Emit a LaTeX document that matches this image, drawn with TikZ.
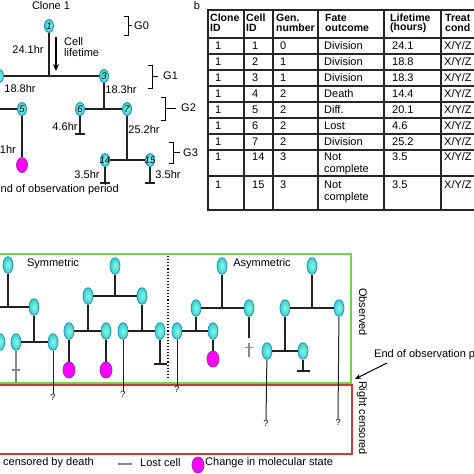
\documentclass[tikz,border=0pt]{standalone}
\usepackage{fontspec}
\setmainfont{Liberation Sans}
\usetikzlibrary{shapes.geometric,arrows.meta}

\definecolor{cellin}{HTML}{92F3E7}
\definecolor{cellout}{HTML}{30D4C8}
\definecolor{cellrim}{HTML}{2A8DC9}
\definecolor{molfill}{HTML}{FF00FF}
\definecolor{molrim}{HTML}{9A2BC4}
\definecolor{obsgreen}{HTML}{72D24C}
\definecolor{censred}{HTML}{C93A3A}
\definecolor{treeline}{HTML}{222222}
\definecolor{deadgray}{HTML}{8A8A8A}

\tikzset{
  cellnode/.style={ellipse, draw=cellrim, line width=0.8pt, inner color=cellin, outer color=cellout,
    minimum width=9pt, minimum height=13pt, inner sep=0pt, font=\itshape\fontsize{9.5}{9.5}\selectfont},
  bigcell/.style={cellnode, minimum width=10pt, minimum height=16.5pt},
  mol/.style={ellipse, draw=molrim, line width=0.8pt, fill=molfill, minimum width=11pt, minimum height=15pt, inner sep=0pt},
  bigmol/.style={mol, minimum width=12pt, minimum height=16pt},
  branch/.style={draw=treeline, line width=1.3pt},
  tailline/.style={draw=treeline, line width=1pt},
  deadline/.style={draw=deadgray, line width=1.1pt},
  qmark/.style={inner sep=0pt, font=\fontsize{9}{9}\selectfont},
  txt/.style={inner sep=0pt, font=\fontsize{11}{13}\selectfont},
  hdr/.style={inner sep=0pt, anchor=west, font=\bfseries\fontsize{10.5}{10.5}\selectfont},
  tbl/.style={draw=black!85, line width=1.4pt, line cap=rect},
  gbrack/.style={draw=black, line width=1pt},
  obsline/.style={draw=obsgreen, line width=1.5pt},
  censline/.style={draw=censred, line width=1.2pt},
}

\begin{document}
\begin{tikzpicture}[x=1pt,y=-1pt]
        \useasboundingbox (0,0) rectangle (474,474);

        % === CLONE TREE ===
        \node[txt] (clonelbl) at (51,6) {Clone 1};
        \node[cellnode] (cl1) at (49,26) {\makebox[0pt]{1}};
        \node[cellnode] (cl2) at (-1,76) {};
        \node[cellnode] (cl3) at (104,76) {\makebox[0pt]{3}};
        \node[cellnode] (cl4) at (-24,109) {};
        \node[cellnode] (cl5) at (22,109) {\makebox[0pt]{5}};
        \node[cellnode] (cl6) at (80,109) {\makebox[0pt]{6}};
        \node[cellnode] (cl7) at (127,109) {\makebox[0pt]{7}};
        \node[cellnode] (cl14) at (105,160) {\makebox[0pt]{14}};
        \node[cellnode] (cl15) at (150,160) {\makebox[0pt]{15}};
        \node[mol] (mol5) at (22,165) {};

        \draw[branch] (cl1) -- (cl1 |- cl3);
        \draw[branch] (cl2) -- (cl3);
        \draw[branch] (cl2) -- (cl2 |- cl5);
        \draw[branch] (cl4) -- (cl5);
        \draw[branch] (cl3) -- (cl3 |- cl6);
        \draw[branch] (cl6) -- (cl7);
        \draw[branch] (cl7) -- (cl7 |- cl14);
        \draw[branch] (cl14) -- (cl15);
        \draw[branch] (cl5) -- (mol5);

        % lost cells
        \coordinate (lost6) at (80,134);
        \coordinate (lost14) at (105,183);
        \coordinate (lost15) at (150,183);
        \foreach \c/\e in {cl6/lost6, cl14/lost14, cl15/lost15} {
            \draw[branch] (\c) -- (\e);
            \draw[branch] ([xshift=-5pt]\e) -- ([xshift=5pt]\e);
        }

        % lifetimes
        \node[txt] (t1) at (28,50) {24.1hr};
        \node[txt] (t2) at (20,89) {18.8hr};
        \node[txt] (t3) at (121,90) {18.3hr};
        \node[txt, anchor=east] (t5) at (16,150) {1hr};
        \node[txt] (t6) at (65,127) {4.6hr};
        \node[txt] (t7) at (144,130) {25.2hr};
        \node[txt] (t14) at (87,175) {3.5hr};
        \node[txt] (t15) at (168,175) {3.5hr};
        \node[txt, anchor=west] (endobs) at (0.5,190) {nd of observation period};

        % === CELL LIFETIME ARROW ===
        \coordinate (lifeA) at (56,37);
        \coordinate (lifeB) at (56,71);
        \draw[-{Stealth[length=7pt,width=6pt]}, line width=1.3pt] (lifeA) -- (lifeB);
        \node[txt, anchor=west] (lifelbl1) at (64,42) {Cell};
        \node[txt, anchor=west] (lifelbl2) at (64,53) {lifetime};

        % === GENERATIONS ===
        \draw[gbrack] (124,16) -- (128,16) -- (128,35) -- (124,35);
        \draw[gbrack] (128,25.5) -- (132,25.5);
        \node[txt, anchor=west] (g0) at (134,26) {G0};
        \draw[gbrack] (148,65) -- (152,65) -- (152,88) -- (148,88);
        \draw[gbrack] (152,76.5) -- (158,76.5);
        \node[txt, anchor=west] (g1) at (163,76) {G1};
        \draw[gbrack] (161,97) -- (165,97) -- (165,120) -- (161,120);
        \draw[gbrack] (165,108.5) -- (176,108.5);
        \node[txt, anchor=west] (g2) at (181,108) {G2};
        \draw[gbrack] (169,142) -- (173,142) -- (173,163) -- (169,163);
        \draw[gbrack] (173,152.5) -- (180,152.5);
        \node[txt, anchor=west] (g3) at (183,153) {G3};

        % === TABLE ===
        \node[txt] (blbl) at (197,6) {b};
        \foreach \x in {208,244,273,318,384,441,520}
            \draw[tbl] (\x,10) -- (\x,210);
        \foreach \y in {10,38,54,70,86,102,118,134,150,176,210}
            \draw[tbl] (208,\y) -- (520,\y);

        \node[hdr] (h1a) at (210,17.5) {Clone};
        \node[hdr] (h1b) at (210,28) {ID};
        \node[hdr] (h2a) at (246,17.5) {Cell};
        \node[hdr] (h2b) at (246,28) {ID};
        \node[hdr] (h3a) at (276,17.5) {Gen.};
        \node[hdr] (h3b) at (276,28) {number};
        \node[hdr] (h4a) at (325,17.5) {Fate};
        \node[hdr] (h4b) at (325,28) {outcome};
        \node[hdr] (h5a) at (390,17.5) {Lifetime};
        \node[hdr] (h5b) at (390,28) {(hours)};
        \node[hdr] (h6a) at (445,17.5) {Treat};
        \node[hdr] (h6b) at (445,28) {cond};

        \foreach \yy/\cid/\gen/\fate/\life in {46/1/0/Division/24.1, 62/2/1/Division/18.8,
            78/3/1/Division/18.3, 94/4/2/Death/14.4, 110/5/2/Diff./20.1,
            126/6/2/Lost/4.6, 142/7/2/Division/25.2, 157/14/3/Not/3.5, 185/15/3/Not/3.5} {
            \node[txt, anchor=west] (rc\cid) at (215,\yy) {1};
            \node[txt, anchor=west] (ri\cid) at (252,\yy) {\cid};
            \node[txt, anchor=west] (rg\cid) at (280,\yy) {\gen};
            \node[txt, anchor=west] (rf\cid) at (324,\yy) {\fate};
            \node[txt, anchor=west] (rl\cid) at (392,\yy) {\life};
            \node[txt, anchor=west] (rt\cid) at (444,\yy) {X/Y/Z};
        }
        \node[txt, anchor=west] (rf14b) at (324,170) {complete};
        \node[txt, anchor=west] (rf15b) at (324,198) {complete};

        % === OBSERVATION WINDOW ===
        \draw[obsline] (-5,254) -- (351,254) -- (351,383) -- (-5,383);
        \draw[censline] (-5,385) -- (352,385) -- (352,454) -- (-5,454);
        \draw[dotted, line width=1.1pt] (168,256) -- (168,380);
        \node[txt] (symlbl) at (53,264) {Symmetric};
        \node[txt] (asymlbl) at (262,264) {Asymmetric};
        \node[txt, rotate=-90] (obslbl) at (363,312) {Observed};
        \node[txt, rotate=-90] (rclbl) at (362,418) {Right censored};
        \node[txt, anchor=west] (endlbl) at (374,355) {End of observation p};
        \coordinate (arrtail) at (387,363);
        \coordinate (arrhead) at (355,379);
        \draw[-{Stealth[length=6pt,width=5pt]}, line width=1pt] (arrtail) -- (arrhead);

        % === SYMMETRIC TREES ===
        \node[bigcell] (a0) at (8,265) {};
        \node[bigcell] (a1) at (-18,307) {};
        \node[bigcell] (a2) at (34,307) {};
        \node[bigcell] (a4) at (0,342) {};
        \node[bigcell] (a5) at (16,342) {};
        \node[bigcell] (a6) at (53,342) {};
        \draw[branch] (a0) -- (a0 |- a2);
        \draw[branch] (a1) -- (a2);
        \draw[branch] (a2) -- (a2 |- a6);
        \draw[branch] (a5) -- (a6);
        \coordinate (a5end) at (16,383);
        \draw[deadline] (a5) -- (a5end);
        \draw[deadline] (12,370) -- (20,370);
        \node[qmark] (qa6) at (53,397) {?};
        \draw[tailline] (a6) -- (qa6.north);

        \node[bigcell] (b0) at (115,266) {};
        \node[bigcell] (b1) at (88,296) {};
        \node[bigcell] (b2) at (142,296) {};
        \node[bigcell] (b3) at (69,331) {};
        \node[bigcell] (b4) at (106,331) {};
        \node[bigcell] (b5) at (123,331) {};
        \node[bigcell] (b6) at (160,331) {};
        \node[bigmol] (m1) at (69,370) {};
        \node[bigmol] (m2) at (106,370) {};
        \draw[branch] (b0) -- (b0 |- b1);
        \draw[branch] (b1) -- (b2);
        \draw[branch] (b1) -- (b1 |- b3);
        \draw[branch] (b3) -- (b4);
        \draw[branch] (b2) -- (b2 |- b5);
        \draw[branch] (b5) -- (b6);
        \draw[branch] (b3) -- (m1);
        \draw[branch] (b4) -- (m2);
        \node[qmark] (qb5) at (123,394) {?};
        \draw[tailline] (b5) -- (qb5.north);
        \coordinate (lostb6) at (160,364);
        \draw[branch] (b6) -- (lostb6);
        \draw[branch] ([xshift=-6.5pt]lostb6) -- ([xshift=6.5pt]lostb6);

        % === ASYMMETRIC TREES ===
        \node[bigcell] (c0) at (222,266) {};
        \node[bigcell] (c1) at (196,308) {};
        \node[bigcell] (c2) at (249,308) {};
        \node[bigcell] (c3) at (177,331) {};
        \node[bigcell] (c4) at (213,331) {};
        \node[bigmol] (m3) at (213,359) {};
        \draw[branch] (c0) -- (c0 |- c1);
        \draw[branch] (c1) -- (c2);
        \draw[branch] (c1) -- (c1 |- c3);
        \draw[branch] (c3) -- (c4);
        \draw[branch] (c4) -- (m3);
        \node[qmark] (qc3) at (177,389) {?};
        \draw[tailline] (c3) -- (qc3.north);
        \coordinate (deadc2) at (249,338);
        \draw[branch] (c2) -- (deadc2);
        \draw[deadline] (249,343) -- (249,357);
        \draw[deadline] (245,347.5) -- (253,347.5);

        \node[bigcell] (d0) at (312,266) {};
        \node[bigcell] (d1) at (285,308) {};
        \node[bigcell] (d2) at (339,308) {};
        \node[bigcell] (d3) at (267,351) {};
        \node[bigcell] (d4) at (303,351) {};
        \draw[branch] (d0) -- (d0 |- d1);
        \draw[branch] (d1) -- (d2);
        \draw[branch] (d1) -- (d1 |- d3);
        \draw[branch] (d3) -- (d4);
        \node[qmark] (qd3) at (266,423) {?};
        \draw[tailline] (d3) -- (qd3.north);
        \node[qmark] (qd2) at (338,422) {?};
        \draw[tailline] (d2) -- (qd2.north);
        \coordinate (lostd4) at (303,371);
        \draw[branch] (d4) -- (lostd4);
        \draw[branch] ([xshift=-6.5pt]lostd4) -- ([xshift=6.5pt]lostd4);

        % === LEGEND ===
        \node[txt, anchor=west] (leg1) at (3,463) {censored by death};
        \coordinate (lostA) at (118,464);
        \coordinate (lostB) at (132,464);
        \draw[draw=deadgray, line width=1.5pt] (lostA) -- (lostB);
        \node[txt, anchor=west] (leg2) at (140,463) {Lost cell};
        \node[bigmol] (legmol) at (198,465) {};
        \node[txt, anchor=west] (leg3) at (205,463) {Change in molecular state};

    \end{tikzpicture}
\end{document}
